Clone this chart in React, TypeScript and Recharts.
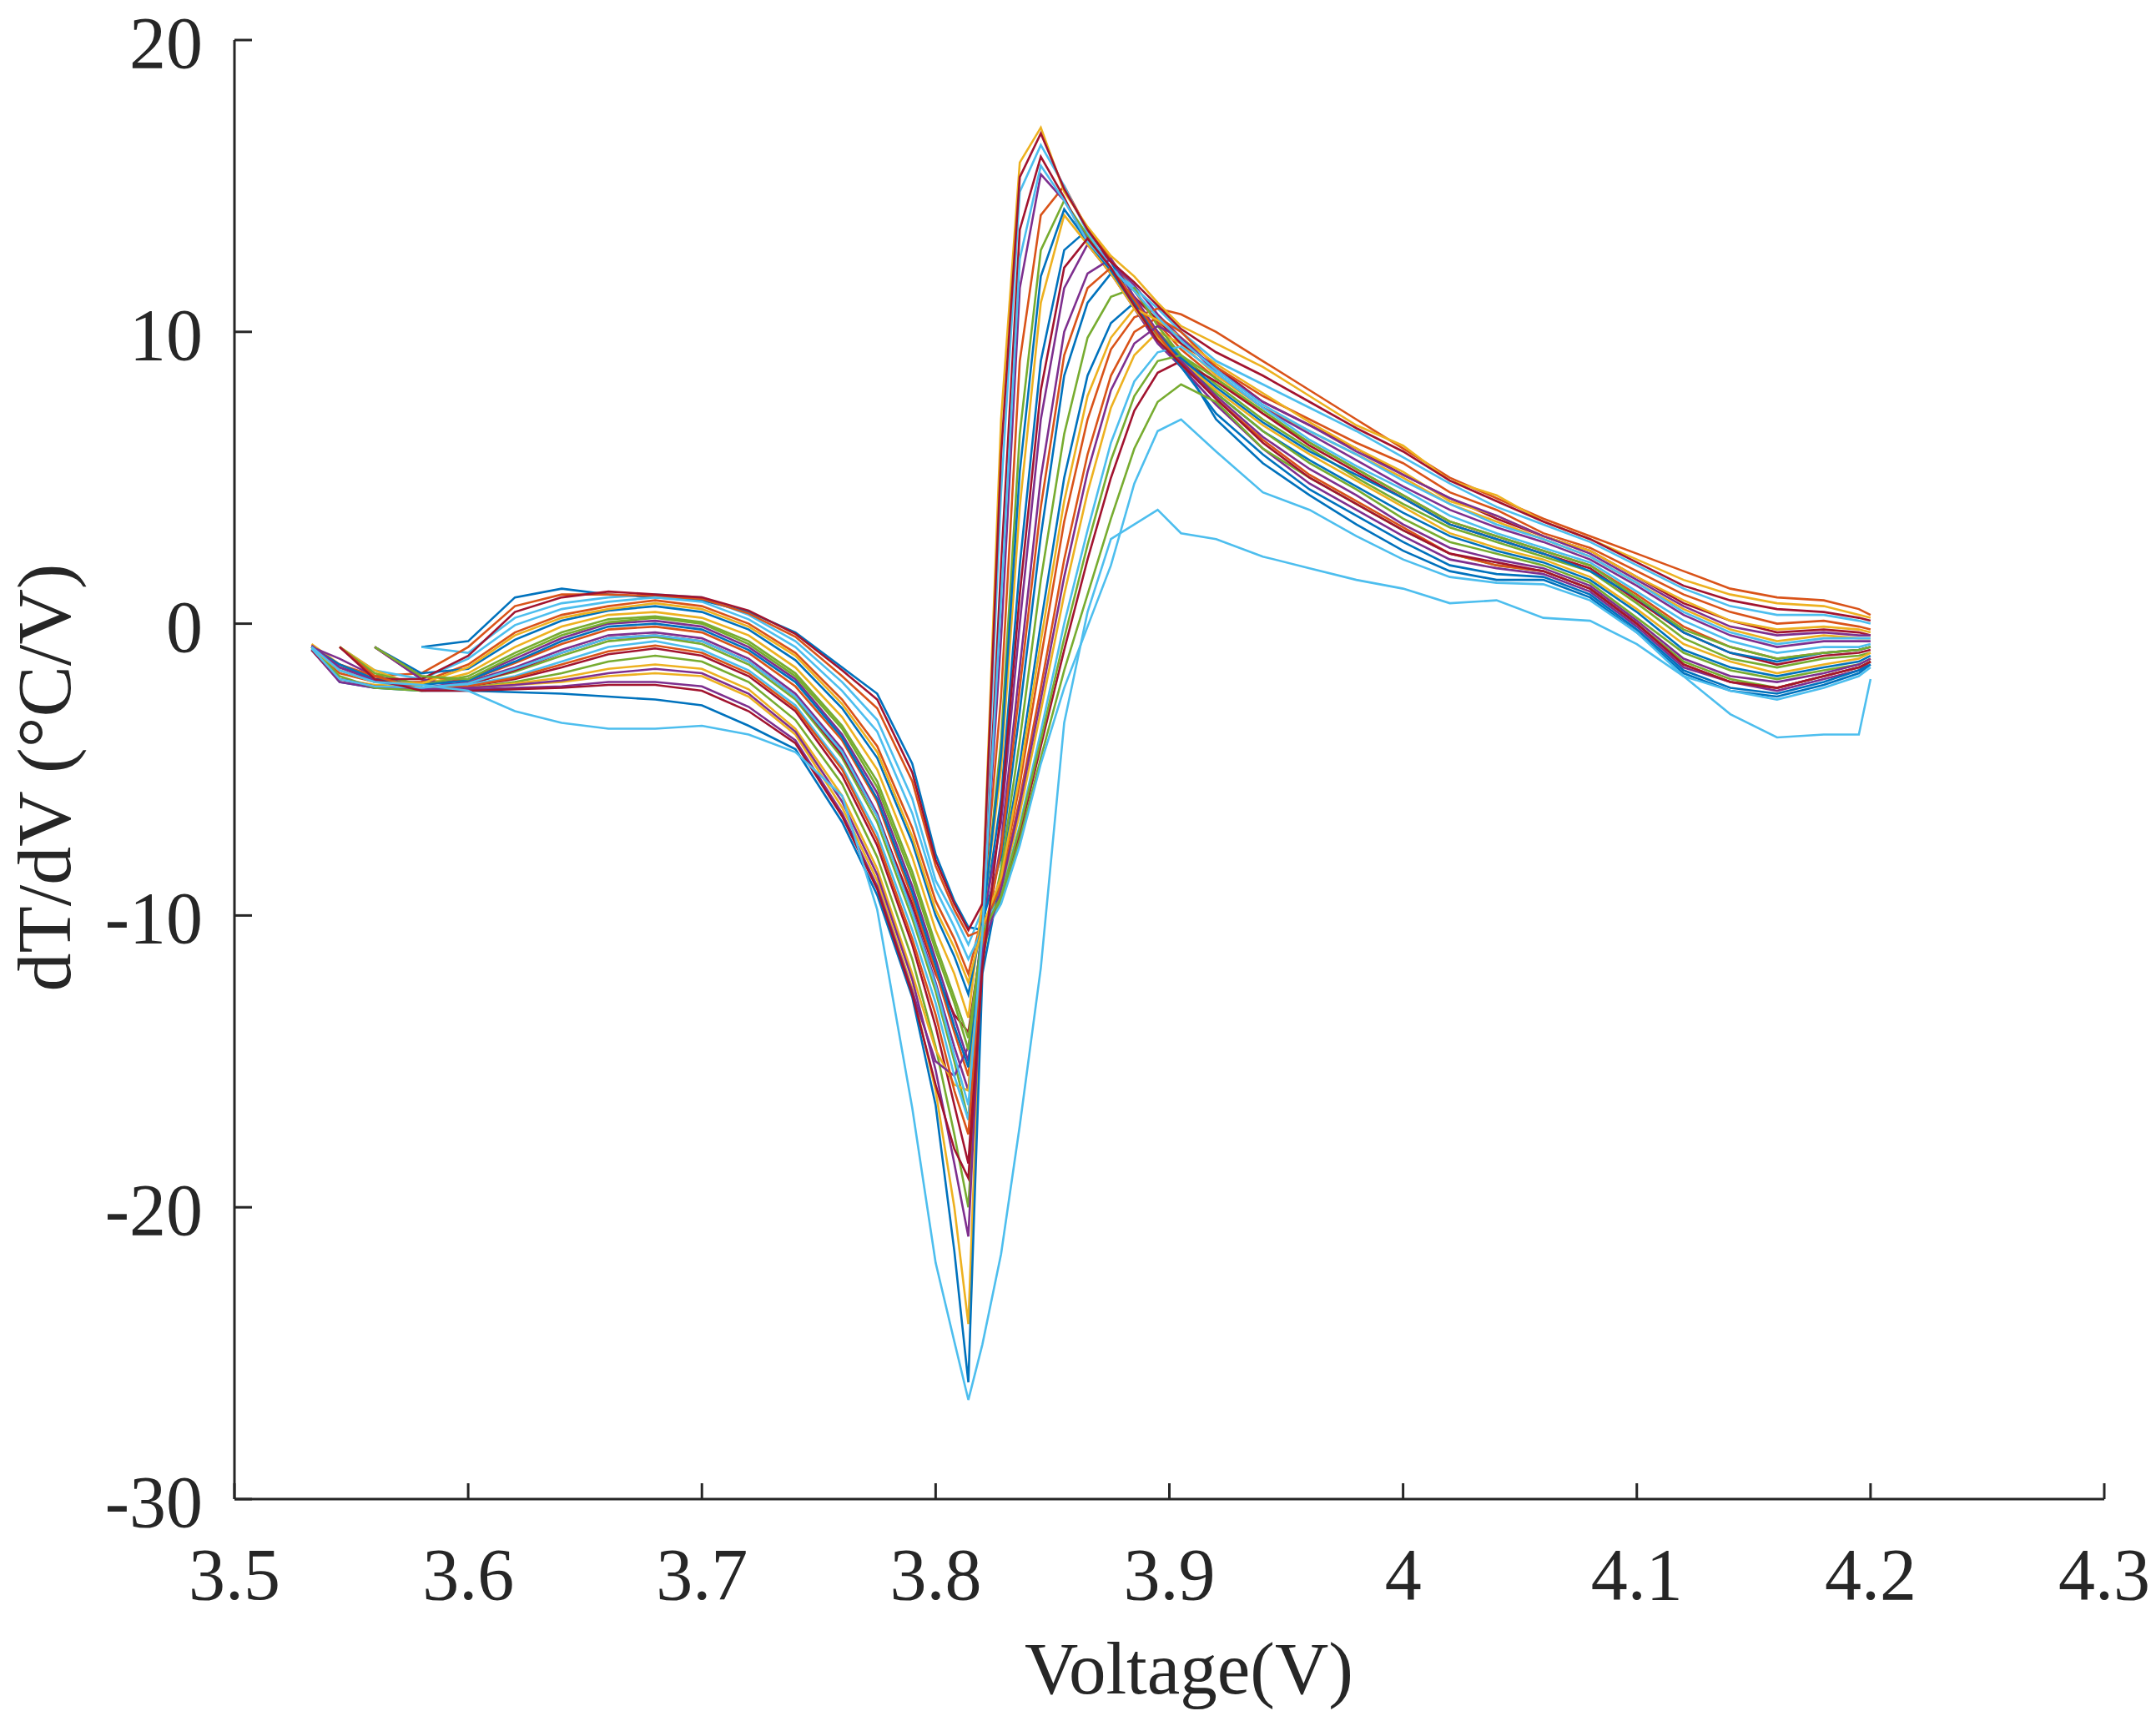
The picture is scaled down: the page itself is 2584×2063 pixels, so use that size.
import React from 'react';
import { LineChart, Line, XAxis, YAxis } from 'recharts';

// Voltage grid (V) shared by all cycles
const voltage = [3.533, 3.545, 3.56, 3.58, 3.60, 3.62, 3.64, 3.66, 3.68, 3.70, 3.72, 3.74, 3.76, 3.775, 3.79, 3.80, 3.808, 3.814, 3.82, 3.828, 3.836, 3.845, 3.855, 3.865, 3.875, 3.885, 3.895, 3.905, 3.92, 3.94, 3.96, 3.98, 4.00, 4.02, 4.04, 4.06, 4.08, 4.10, 4.12, 4.14, 4.16, 4.18, 4.195, 4.20];

// dT/dV (°C/V) per cycle
const cyc01 = [null, null, null, -0.8, -0.6, 0.9, 1.2, 1.0, 0.9, 0.8, 0.4, -0.3, -1.5, -2.4, -4.8, -7.9, -9.5, -10.4, -10.5, -6.0, 2.0, 9.0, 12.8, 13.5, 12.4, 11.0, 9.9, 9.0, 7.9, 6.6, 5.6, 4.7, 3.8, 3.0, 2.5, 2.1, 1.5, 0.4, -0.9, -1.5, -1.8, -1.5, -1.3, -1.1];
const cyc02 = [-0.9, -1.7, -2.0, -2.0, -1.4, -0.3, 0.3, 0.6, 0.8, 0.6, 0.0, -1.0, -2.6, -4.2, -7.0, -9.5, -10.8, -12.0, -10.0, -2.5, 9.0, 14.0, 15.0, 13.5, 12.5, 11.4, 10.3, 9.4, 8.4, 7.2, 6.2, 5.3, 4.4, 3.5, 3.0, 2.5, 2.0, 1.0, -0.1, -0.8, -1.2, -1.0, -0.9, -0.8];
const cyc03 = [-0.7, -1.4, -1.9, -2.2, -2.2, -2.1, -2.0, -1.8, -1.7, -1.8, -2.5, -3.8, -6.3, -8.8, -12.5, -16.0, -20.0, -24.0, -11.0, -9.2, -6.5, -3.0, 1.0, 4.5, 7.4, 9.2, 10.0, 9.6, 8.5, 7.4, 6.6, 5.8, 5.0, 4.1, 3.5, 2.9, 2.3, 1.4, 0.5, -0.2, -0.6, -0.4, -0.5, -0.5];
const cyc04 = [-0.8, -1.2, -1.8, -2.1, -1.9, -1.2, -0.5, 0.0, 0.1, -0.1, -0.8, -1.9, -3.8, -5.8, -9.0, -11.5, -13.5, -15.0, -10.2, -0.5, 11.5, 15.4, 14.5, 13.2, 12.4, 11.6, 10.6, 9.8, 8.6, 7.4, 6.5, 5.6, 4.7, 3.9, 3.3, 2.8, 2.2, 1.3, 0.3, -0.4, -0.8, -0.6, -0.6, -0.6];
const cyc05 = [null, -0.8, -1.8, -2.2, -2.05, -1.65, -1.1, -0.6, -0.45, -0.7, -1.4, -2.6, -4.6, -6.8, -10.1, -12.6, -15.0, -17.0, -10.4, -4.0, 6.5, 12.8, 14.5, 13.3, 12.2, 11.0, 10.0, 9.2, 8.2, 7.0, 6.0, 5.0, 4.1, 3.3, 2.8, 2.3, 1.8, 0.7, -0.5, -1.2, -1.5, -1.2, -1.1, -1.0];
const cyc06 = [null, null, null, -0.8, -1.0, 0.2, 0.7, 0.9, 1.0, 0.9, 0.3, -0.6, -2.0, -3.3, -6.0, -8.8, -10.0, -11.0, -9.8, 4.5, 14.8, 16.4, 15.0, 13.4, 12.2, 11.5, 10.8, 10.0, 9.0, 8.2, 7.4, 6.6, 5.7, 4.8, 4.0, 3.4, 2.8, 2.0, 1.2, 0.6, 0.3, 0.3, 0.1, 0.0];
const cyc07 = [null, null, -0.8, -1.9, -2.15, -1.9, -1.5, -1.05, -0.85, -1.1, -1.8, -3.0, -5.2, -7.6, -11.0, -13.8, -16.5, -18.5, -11.0, 2.0, 13.5, 16.0, 14.6, 13.0, 12.0, 11.2, 10.4, 9.6, 8.8, 7.6, 6.8, 6.0, 5.1, 4.3, 3.6, 3.0, 2.5, 1.6, 0.7, 0.1, -0.3, -0.2, -0.3, -0.4];
const cyc08 = [-0.8, -2.0, -2.2, -2.3, -2.3, -2.35, -2.4, -2.5, -2.6, -2.8, -3.5, -4.3, -6.8, -9.3, -12.8, -16.5, -21.5, -26.0, -12.0, -8.6, -4.8, 0.0, 5.0, 8.5, 10.3, 11.0, 10.0, 9.0, 7.0, 5.5, 4.4, 3.4, 2.5, 1.8, 1.5, 1.5, 0.9, -0.3, -1.7, -2.3, -2.5, -2.1, -1.7, -1.4];
const cyc09 = [-0.8, -1.4, -1.8, -1.7, -0.8, 0.6, 1.0, 1.0, 0.95, 0.85, 0.35, -0.45, -1.8, -2.9, -5.4, -8.3, -9.8, -10.7, -10.5, -8.8, -5.5, -1.2, 3.5, 7.0, 9.4, 10.5, 10.8, 10.6, 10.0, 9.0, 8.0, 7.0, 6.0, 5.0, 4.3, 3.6, 3.0, 2.4, 1.8, 1.2, 0.9, 0.8, 0.5, 0.3];
const cyc10 = [-0.8, -1.9, -2.1, -2.1, -1.7, -0.8, -0.1, 0.3, 0.4, 0.2, -0.4, -1.5, -3.2, -5.0, -8.0, -10.5, -12.0, -13.5, -9.5, 7.0, 15.8, 17.0, 14.8, 13.6, 12.6, 11.9, 11.0, 10.2, 9.6, 8.8, 7.8, 6.8, 6.1, 4.9, 4.4, 3.5, 2.9, 2.2, 1.5, 1.0, 0.7, 0.6, 0.3, 0.2];
const cyc11 = [-0.9, -2.0, -2.2, -2.2, -2.0, -1.5, -0.9, -0.4, -0.3, -0.5, -1.2, -2.4, -4.3, -6.5, -9.8, -12.3, -14.5, -16.0, -10.3, -6.8, 0.0, 7.0, 11.5, 13.0, 12.0, 10.8, 9.6, 8.8, 7.5, 6.0, 4.8, 3.9, 3.0, 2.2, 1.9, 1.7, 1.1, -0.1, -1.5, -2.0, -2.3, -1.9, -1.6, -1.3];
const cyc12 = [-0.8, -1.8, -2.2, -2.3, -2.2, -2.0, -1.7, -1.3, -1.1, -1.3, -2.0, -3.3, -5.5, -8.0, -11.5, -14.5, -17.5, -20.0, -11.5, -8.4, -4.0, 1.5, 6.5, 9.8, 11.2, 11.5, 10.2, 9.2, 7.9, 6.6, 5.5, 4.6, 3.6, 2.8, 2.4, 2.0, 1.4, 0.2, -1.0, -1.6, -1.9, -1.6, -1.4, -1.2];
const cyc13 = [null, -0.8, -1.6, -1.9, -1.2, -0.05, 0.5, 0.75, 0.9, 0.75, 0.15, -0.8, -2.3, -3.7, -6.5, -9.1, -10.4, -11.5, -10.5, -9.3, -6.9, -3.7, 0.0, 3.2, 6.2, 8.3, 9.3, 9.5, 8.6, 7.4, 6.3, 5.4, 4.6, 3.7, 3.1, 2.6, 2.1, 1.1, 0.1, -0.6, -1.0, -0.8, -0.8, -0.7];
const cyc14 = [-0.9, -1.9, -2.15, -2.2, -2.1, -1.6, -1.0, -0.5, -0.4, -0.6, -1.3, -2.5, -4.5, -6.6, -9.6, -12.0, -13.4, -14.0, -10.7, -9.4, -7.2, -4.2, -0.9, 2.2, 5.0, 7.3, 8.6, 9.0, 8.3, 7.2, 6.1, 5.2, 4.3, 3.4, 2.9, 2.4, 1.9, 0.8, -0.3, -1.0, -1.4, -1.1, -1.0, -0.9];
const cyc15 = [null, null, -0.8, -1.7, -1.55, -0.55, 0.1, 0.45, 0.6, 0.4, -0.2, -1.25, -2.9, -4.6, -7.5, -10.0, -11.4, -12.7, -10.2, -8.0, -3.0, 3.0, 8.5, 11.0, 12.0, 11.0, 9.8, 8.8, 7.2, 5.8, 4.6, 3.7, 2.8, 2.0, 1.7, 1.6, 1.0, -0.2, -1.6, -2.2, -2.4, -2.0, -1.6, -1.4];
const cyc16 = [null, null, -0.8, -1.8, -1.95, -1.35, -0.7, -0.2, -0.1, -0.3, -1.0, -2.15, -4.0, -6.1, -9.4, -11.9, -14.0, -15.5, -10.4, -9.0, -6.0, -2.2, 2.2, 5.8, 8.5, 10.0, 10.5, 10.0, 8.8, 7.8, 7.0, 6.2, 5.5, 4.5, 3.9, 3.1, 2.6, 1.8, 1.0, 0.4, 0.0, 0.1, -0.1, -0.2];
const cyc17 = [null, -0.8, -1.6, -2.2, -2.2, -2.05, -1.85, -1.55, -1.4, -1.55, -2.25, -3.6, -5.9, -8.4, -12.0, -14.6, -15.8, -16.0, -10.2, -5.0, 4.0, 11.0, 14.0, 13.0, 12.0, 10.8, 9.8, 9.0, 8.0, 6.8, 5.8, 4.9, 4.0, 3.1, 2.6, 2.2, 1.6, 0.5, -0.7, -1.3, -1.7, -1.4, -1.2, -1.0];
const cyc18 = [null, null, -0.8, -1.9, -2.25, -2.2, -2.15, -2.0, -2.0, -2.15, -2.85, -4.0, -6.5, -9.0, -12.6, -15.0, -15.5, -14.5, -11.5, -7.5, -1.5, 5.0, 10.0, 12.0, 12.5, 11.2, 10.0, 9.0, 7.8, 6.4, 5.3, 4.4, 3.4, 2.6, 2.2, 1.9, 1.3, 0.1, -1.2, -1.8, -2.0, -1.7, -1.4, -1.2];
const cyc19 = [null, -0.8, -1.7, -2.1, -1.8, -1.0, -0.3, 0.15, 0.25, 0.05, -0.6, -1.7, -3.5, -5.4, -8.5, -11.0, -12.8, -14.2, -10.6, -9.5, -7.4, -4.6, -1.6, 1.0, 3.6, 6.0, 7.6, 8.2, 7.6, 6.0, 5.0, 4.1, 3.2, 2.4, 2.0, 1.8, 1.2, 0.0, -1.3, -1.9, -2.2, -1.8, -1.5, -1.3];
const cyc20 = [-0.8, -1.6, -2.0, -2.2, -2.1, -1.8, -1.3, -0.8, -0.6, -0.9, -1.6, -2.8, -4.9, -7.2, -10.5, -13.0, -15.5, -17.0, -10.7, -9.6, -7.6, -4.8, -2.2, -0.1, 2.0, 4.8, 6.6, 7.0, 5.9, 4.5, 3.9, 3.0, 2.2, 1.6, 1.4, 1.35, 0.8, -0.3, -1.8, -2.3, -2.6, -2.2, -1.8, -1.5];
const cyc21 = [-0.8, -1.5, -1.9, -1.9, -1.1, 0.4, 0.9, 1.1, 1.0, 0.9, 0.45, -0.35, -1.6, -2.6, -5.1, -8.1, -9.6, -10.5, -9.6, 5.8, 15.3, 16.8, 14.9, 13.5, 12.4, 11.7, 10.9, 10.1, 9.3, 8.5, 7.6, 6.7, 5.9, 4.9, 4.2, 3.5, 2.9, 2.1, 1.3, 0.8, 0.5, 0.4, 0.2, 0.1];
const cyc22 = [-0.8, -1.4, -1.9, -2.1, -1.95, -1.3, -0.6, -0.1, 0.0, -0.2, -0.9, -2.0, -3.9, -6.0, -9.2, -11.7, -13.8, -15.2, -10.3, -4.5, 5.2, 11.9, 14.2, 13.1, 12.1, 10.9, 9.9, 9.1, 8.1, 6.9, 5.9, 5.1, 4.3, 3.4, 2.9, 2.4, 1.8, 0.9, -0.3, -1.0, -1.3, -1.0, -0.9, -0.8];
const cyc23 = [null, -0.8, -1.8, -2.25, -2.15, -1.85, -1.4, -0.95, -0.75, -1.0, -1.7, -2.9, -5.0, -7.4, -10.8, -13.4, -16.0, -17.5, -11.0, -7.8, -2.2, 4.0, 9.2, 11.5, 12.2, 11.1, 9.9, 8.9, 7.7, 6.3, 5.1, 4.2, 3.3, 2.4, 2.0, 1.8, 1.2, 0.0, -1.4, -2.0, -2.2, -1.8, -1.5, -1.3];
const cyc24 = [-0.85, -1.6, -2.0, -2.05, -1.5, -0.4, 0.2, 0.5, 0.7, 0.5, -0.1, -1.1, -2.75, -4.4, -7.3, -9.8, -11.1, -12.3, -10.4, -8.7, -5.2, -0.6, 4.2, 7.8, 9.8, 10.8, 10.4, 9.8, 8.9, 7.9, 6.9, 6.0, 5.2, 4.2, 3.7, 3.0, 2.5, 1.6, 0.8, 0.1, -0.2, -0.1, -0.2, -0.3];
const cyc25 = [-0.75, -1.5, -1.95, -2.25, -2.2, -2.1, -1.95, -1.7, -1.55, -1.7, -2.4, -3.7, -6.1, -8.6, -12.2, -15.3, -18.5, -21.0, -11.2, -9.1, -6.2, -2.6, 1.6, 5.2, 8.0, 9.6, 10.2, 9.8, 8.7, 7.6, 6.8, 5.9, 5.1, 4.3, 3.7, 3.0, 2.4, 1.5, 0.6, -0.1, -0.4, -0.3, -0.4, -0.4];
const cyc26 = [null, null, -0.8, -1.8, -1.9, -1.1, -0.4, 0.05, 0.2, 0.0, -0.7, -1.8, -3.6, -5.6, -8.7, -11.2, -13.0, -14.6, -10.6, -9.35, -7.0, -4.0, -0.5, 2.7, 5.6, 7.8, 9.0, 9.2, 8.4, 7.3, 6.2, 5.3, 4.4, 3.5, 3.0, 2.5, 2.0, 0.9, -0.2, -0.8, -1.2, -1.0, -0.9, -0.8];
const cyc27 = [-0.85, -1.9, -2.15, -2.2, -2.05, -1.55, -1.0, -0.5, -0.4, -0.6, -1.3, -2.5, -4.4, -6.6, -9.9, -12.4, -14.8, -16.5, -10.6, 0.8, 12.5, 15.7, 14.5, 13.1, 12.2, 11.4, 10.5, 9.7, 8.7, 7.5, 6.6, 5.8, 4.9, 4.1, 3.4, 2.9, 2.3, 1.4, 0.4, -0.3, -0.7, -0.5, -0.5, -0.5];
const cyc28 = [null, -0.8, -1.9, -2.3, -2.3, -2.25, -2.2, -2.1, -2.1, -2.3, -3.0, -4.1, -6.6, -9.1, -12.7, -15.8, -18.0, -19.0, -11.8, -6.4, 1.0, 8.0, 12.2, 13.2, 12.2, 10.9, 9.7, 8.9, 7.7, 6.2, 5.0, 4.1, 3.2, 2.4, 2.1, 1.8, 1.2, 0.0, -1.4, -2.0, -2.2, -1.8, -1.5, -1.3];
// the separated light-blue cycle
const cycOut = [-0.8, -1.6, -2.0, -2.1, -2.3, -3.0, -3.4, -3.6, -3.6, -3.5, -3.8, -4.4, -5.9, -9.8, -16.6, -21.9, -24.6, -26.6, -24.7, -21.6, -17.2, -11.8, -3.4, 0.4, 2.9, 3.4, 3.9, 3.1, 2.9, 2.3, 1.9, 1.5, 1.2, 0.7, 0.8, 0.2, 0.1, -0.7, -1.8, -3.1, -3.9, -3.8, -3.8, -1.9];

const cycles = [cyc01, cyc02, cyc03, cyc04, cyc05, cyc06, cyc07, cyc08, cyc09, cyc10, cyc11, cyc12, cyc13, cyc14, cyc15, cyc16, cyc17, cyc18, cyc19, cyc20, cyc21, cyc22, cyc23, cyc24, cyc25, cyc26, cyc27, cyc28, cycOut];

// Axis ticks
const xTicks = [3.5, 3.6, 3.7, 3.8, 3.9, 4.0, 4.1, 4.2, 4.3];
const xTickLabels = ['3.5', '3.6', '3.7', '3.8', '3.9', '4', '4.1', '4.2', '4.3'];
const yTicks = [-30, -20, -10, 0, 10, 20];
const yTickLabels = ['-30', '-20', '-10', '0', '10', '20'];

const palette = ['#0072BD', '#D95319', '#EDB120', '#7E2F8E', '#77AC30', '#4DBEEE', '#A2142F'];
const OUTLIER_COLOR = '#4DBEEE';

const rows = voltage.map((v, i) => {
  const r: Record<string, number | null> = { v };
  cycles.forEach((c, k) => {
    r['c' + k] = c[i];
  });
  return r;
});

const AXIS = '#262626';
const FONT = '"Liberation Serif", "Times New Roman", Times, serif';

const W = 2584;
const H = 2063;

function XTick(props: any) {
  const { x, y, payload } = props;
  const idx = xTicks.indexOf(payload.value);
  return (
    <g>
      <line x1={x} y1={y} x2={x} y2={y - 19} stroke={AXIS} strokeWidth={3} />
      <text x={x} y={y + 120} textAnchor="middle" fontSize={88} fontFamily={FONT} fill={AXIS}>
        {xTickLabels[idx]}
      </text>
    </g>
  );
}

function YTick(props: any) {
  const { x, y, payload } = props;
  const idx = yTicks.indexOf(payload.value);
  return (
    <g>
      <line x1={x} y1={y} x2={x + 21} y2={y} stroke={AXIS} strokeWidth={3} />
      <text x={x - 38} y={y + 33} textAnchor="end" fontSize={88} fontFamily={FONT} fill={AXIS}>
        {yTickLabels[idx]}
      </text>
    </g>
  );
}

export default function App() {
  return (
    <div style={{ position: 'relative', width: W, height: H, margin: '-8px 0 0 -8px', background: '#fff' }}>
      <LineChart width={W} height={H} data={rows} margin={{ top: 48, right: 62, bottom: 116, left: 81 }}>
        <XAxis
          type="number"
          dataKey="v"
          domain={[3.5, 4.3]}
          ticks={xTicks}
          interval={0}
          allowDataOverflow
          height={150}
          tickSize={0}
          tickMargin={0}
          tickLine={false}
          tick={<XTick />}
          axisLine={{ stroke: AXIS, strokeWidth: 3 }}
        />
        <YAxis
          type="number"
          domain={[-30, 20]}
          ticks={yTicks}
          interval={0}
          allowDataOverflow
          width={200}
          tickSize={0}
          tickMargin={0}
          tickLine={false}
          tick={<YTick />}
          axisLine={{ stroke: AXIS, strokeWidth: 3 }}
        />
        {cycles.map((_, k) => (
          <Line
            key={k}
            type="linear"
            dataKey={'c' + k}
            stroke={k === cycles.length - 1 ? OUTLIER_COLOR : palette[k % palette.length]}
            strokeWidth={2.6}
            dot={false}
            activeDot={false}
            isAnimationActive={false}
            connectNulls={false}
          />
        ))}
      </LineChart>
      <svg width={W} height={H} style={{ position: 'absolute', left: 0, top: 0, pointerEvents: 'none' }}>
        <text x={1425} y={2030} textAnchor="middle" fontSize={89} fontFamily={FONT} fill={AXIS}>
          Voltage(V)
        </text>
        <text
          x={84}
          y={932}
          transform="rotate(-90 84 932)"
          textAnchor="middle"
          fontSize={92}
          fontFamily={FONT}
          fill={AXIS}
        >
          dT/dV (°C/V)
        </text>
      </svg>
    </div>
  );
}
